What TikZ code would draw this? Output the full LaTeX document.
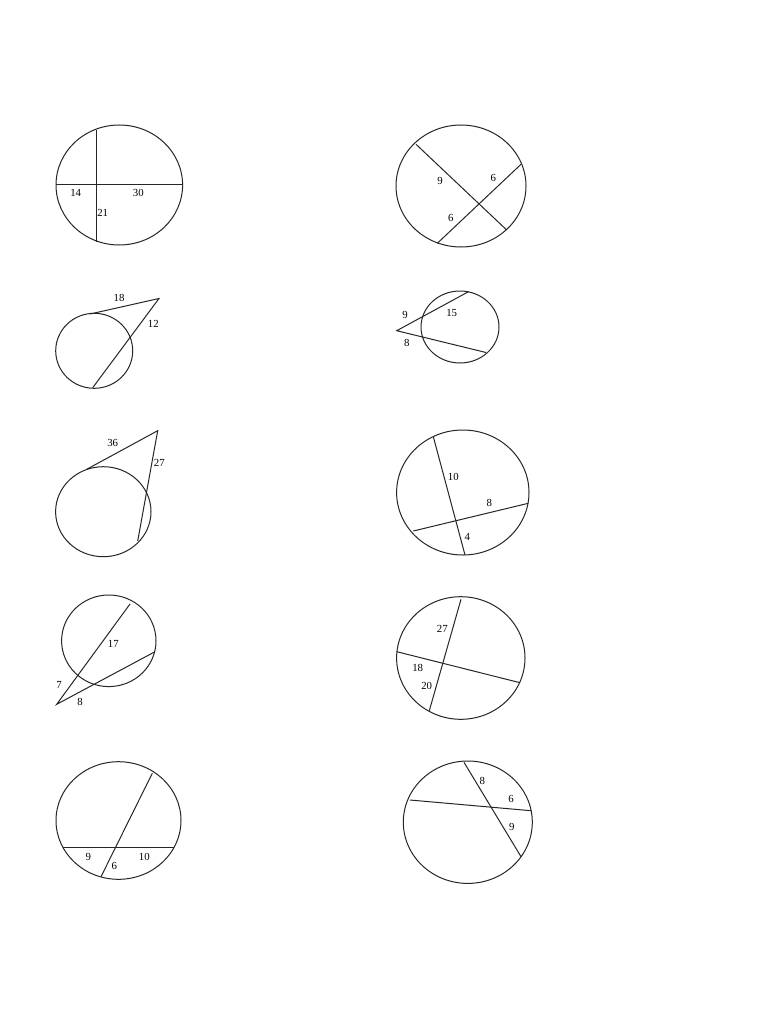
\documentclass[tikz,border=0pt]{standalone}
\usepackage{fontspec}
\setmainfont{Liberation Serif}
\begin{document}
\begin{tikzpicture}[x=1pt,y=-1pt,
  geo/.style={draw=black!85,line width=1pt},
  lbl/.style={inner sep=0pt,font=\fontsize{10.8}{12}\selectfont}]
\useasboundingbox[fill=white] (0,0) rectangle (768,1024);
% Figure 1
\draw[geo] (119.3,185) ellipse [x radius=63.3pt,y radius=60pt];
\draw[geo] (56,184.5) -- (182.6,184.5);
\draw[geo] (96.5,130.5) -- (96.5,241.5);
\node[lbl] (l1a) at (75.7,193.3) {14};
\node[lbl] (l1b) at (138.3,193.3) {30};
\node[lbl] (l1c) at (102.7,212.7) {21};
% Figure 2
\draw[geo] (461,186) ellipse [x radius=65pt,y radius=61pt];
\draw[geo] (416,144.3) -- (506.7,230);
\draw[geo] (437.3,243.3) -- (521,164.3);
\node[lbl] (l2a) at (440,181) {9};
\node[lbl] (l2b) at (493.3,178.3) {6};
\node[lbl] (l2c) at (450.7,217.7) {6};
% Figure 3
\draw[geo] (94.2,350.8) ellipse [x radius=38.5pt,y radius=37.5pt];
\coordinate (a3) at (159,298.5);
\draw[geo] (90,314) -- (a3) -- (92.7,387.7);
\node[lbl] (l3a) at (119,298) {18};
\node[lbl] (l3b) at (153.3,324.3) {12};
% Figure 4
\draw[geo] (460,327) ellipse [x radius=39pt,y radius=36pt];
\coordinate (a4) at (396.7,330.7);
\draw[geo] (468.3,291.8) -- (a4) -- (486,352.5);
\node[lbl] (l4a) at (405,315) {9};
\node[lbl] (l4b) at (451.7,313.3) {15};
\node[lbl] (l4c) at (406.7,343.3) {8};
% Figure 5
\draw[geo] (103.3,511.7) ellipse [x radius=47.7pt,y radius=45pt];
\coordinate (a5) at (157.7,430.7);
\draw[geo] (86.7,469.3) -- (a5) -- (137.7,541);
\node[lbl] (l5a) at (112.7,442.7) {36};
\node[lbl] (l5b) at (159.3,463.3) {27};
% Figure 6
\draw[geo] (462.8,492.5) ellipse [x radius=66.2pt,y radius=62.5pt];
\draw[geo] (433.3,436.7) -- (465,555);
\draw[geo] (413.3,531) -- (528.3,503.3);
\node[lbl] (l6a) at (453.3,477.3) {10};
\node[lbl] (l6b) at (489.3,503.3) {8};
\node[lbl] (l6c) at (467.3,536.7) {4};
% Figure 7
\draw[geo] (108.8,640.8) ellipse [x radius=47.2pt,y radius=45.8pt];
\coordinate (a7) at (56.7,704.3);
\draw[geo] (130,604) -- (a7) -- (155,651.7);
\node[lbl] (l7a) at (113.3,644) {17};
\node[lbl] (l7b) at (59,685) {7};
\node[lbl] (l7c) at (80,701.7) {8};
% Figure 8
\draw[geo] (460.8,658) ellipse [x radius=64.2pt,y radius=61.3pt];
\draw[geo] (461,599.3) -- (429.3,710.7);
\draw[geo] (396.8,651.7) -- (520,682.7);
\node[lbl] (l8a) at (442.3,629.3) {27};
\node[lbl] (l8b) at (417.7,668.3) {18};
\node[lbl] (l8c) at (426.7,686) {20};
% Figure 9
\draw[geo] (118.5,820.5) ellipse [x radius=62.5pt,y radius=58.8pt];
\draw[geo] (63.3,847.5) -- (174.3,847.5);
\draw[geo] (101,876.7) -- (152.3,773.3);
\node[lbl] (l9a) at (88.3,856.7) {9};
\node[lbl] (l9b) at (114.3,866) {6};
\node[lbl] (l9c) at (144.3,856.7) {10};
% Figure 10
\draw[geo] (467.8,822.2) ellipse [x radius=64.5pt,y radius=61.2pt];
\draw[geo] (464,762.3) -- (521,856.7);
\draw[geo] (410,800) -- (531,810.7);
\node[lbl] (l10a) at (482.3,781) {8};
\node[lbl] (l10b) at (511,799.3) {6};
\node[lbl] (l10c) at (511.7,826.7) {9};
\end{tikzpicture}
\end{document}
